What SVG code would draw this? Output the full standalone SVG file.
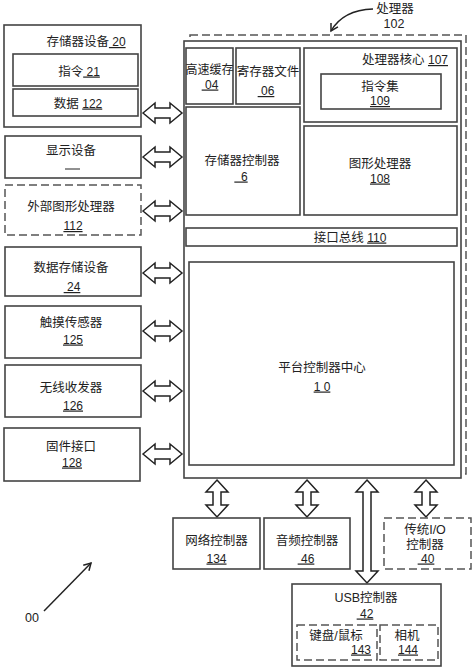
<svg xmlns="http://www.w3.org/2000/svg" xmlns:xlink="http://www.w3.org/1999/xlink" width="474" height="669" viewBox="0 0 474 669">
<style>
text{font-family:"Liberation Sans","Noto Sans CJK SC",sans-serif;font-size:12.5px;fill:#222;text-anchor:middle}
.n{font-size:12px;text-decoration:underline}
.b{fill:#fff;stroke:#444;stroke-width:1.6}
.d{fill:#fff;stroke:#555;stroke-width:1.5;stroke-dasharray:8,4}
.a{fill:#fff;stroke:#222;stroke-width:1.5;stroke-linejoin:miter}
.l{fill:none;stroke:#222;stroke-width:1.5}
</style>
<defs>
<path id="ha" class="a" d="M0,0 L12,-10 L12,-5 L27,-5 L27,-10 L39,0 L27,10 L27,5 L12,5 L12,10 Z"/>
<path id="va" class="a" d="M0,0 L11,12 L4,12 L4,25 L11,25 L0,37 L-11,25 L-4,25 L-4,12 L-11,12 Z"/>
<path id="vl" class="a" d="M0,0 L11,12 L4,12 L4,91 L11,91 L0,103 L-11,91 L-4,91 L-4,12 L-11,12 Z"/>
<marker id="ah" markerWidth="10" markerHeight="10" refX="8" refY="5" orient="auto" markerUnits="userSpaceOnUse">
<path d="M1,1 L8,5 L1,9" fill="none" stroke="#222" stroke-width="1.5"/>
</marker>
</defs>

<g id="connectors">
<use xlink:href="#ha" href="#ha" x="143" y="113"/>
<use xlink:href="#ha" href="#ha" x="143" y="157"/>
<use xlink:href="#ha" href="#ha" x="143" y="211"/>
<use xlink:href="#ha" href="#ha" x="143" y="273"/>
<use xlink:href="#ha" href="#ha" x="143" y="331"/>
<use xlink:href="#ha" href="#ha" x="143" y="391"/>
<use xlink:href="#ha" href="#ha" x="143" y="454"/>
<use xlink:href="#va" href="#va" x="217" y="480"/>
<use xlink:href="#va" href="#va" x="307" y="480"/>
<use xlink:href="#vl" href="#vl" x="367" y="480"/>
<use xlink:href="#va" href="#va" x="426" y="480"/>
<path class="l" d="M373,9 Q343,10 331,31" marker-end="url(#ah)"/>
<path class="l" d="M44,611 L91,563" marker-end="url(#ah)"/>
</g>

<g id="memory-device">
<rect class="b" x="4" y="25" width="137" height="102"/>
<text x="86" y="46">存储器设备<tspan class="n">&#160;20</tspan></text>
</g>
<g id="instructions">
<rect class="b" x="13" y="54" width="125" height="32"/>
<text x="79" y="75.5">指令<tspan class="n">&#160;21</tspan></text>
</g>
<g id="data">
<rect class="b" x="13" y="89" width="125" height="27"/>
<text x="78" y="107.5">数据 <tspan class="n">122</tspan></text>
</g>
<g id="display">
<rect class="b" x="5" y="136" width="136" height="42"/>
<text x="71" y="154.5">显示设备</text>
<line x1="65" y1="169" x2="80" y2="169" stroke="#222" stroke-width="1"/>
</g>
<g id="ext-gpu">
<rect class="d" x="5" y="185" width="136" height="50"/>
<text x="71" y="211">外部图形处理器</text>
<text class="n" x="73" y="230">112</text>
</g>
<g id="data-storage">
<rect class="b" x="5" y="247" width="136" height="49"/>
<text x="71" y="271.5">数据存储设备</text>
<text class="n" x="72" y="291">&#160;24</text>
</g>
<g id="touch">
<rect class="b" x="5" y="306" width="136" height="52"/>
<text x="71" y="326.5">触摸传感器</text>
<text class="n" x="73" y="343.5">125</text>
</g>
<g id="wireless">
<rect class="b" x="5" y="365" width="136" height="52"/>
<text x="71" y="391.5">无线收发器</text>
<text class="n" x="73" y="409.5">126</text>
</g>
<g id="firmware">
<rect class="b" x="4" y="428" width="136" height="53"/>
<text x="71" y="450.5">固件接口</text>
<text class="n" x="72" y="466.5">128</text>
</g>

<g id="processor">
<rect class="d" x="190" y="35" width="276" height="439"/>
<rect class="b" x="184" y="41" width="277" height="437"/>
<text x="395" y="13">处理器</text>
<text x="394" y="28">102</text>
</g>
<g id="cache">
<rect class="b" x="186" y="48" width="47" height="56"/>
<text x="209.5" y="74" style="font-size:12px">高速缓存</text>
<text class="n" x="210" y="88.5">&#160;04</text>
</g>
<g id="regfile">
<rect class="b" x="236" y="48" width="64" height="56"/>
<text x="268" y="76">寄存器文件</text>
<text class="n" x="266" y="95">&#160;06</text>
</g>
<g id="core">
<rect class="b" x="304" y="48" width="153" height="74"/>
<text x="448" y="64" style="text-anchor:end">处理器核心 <tspan class="n">107</tspan></text>
</g>
<g id="isa">
<rect class="b" x="321" y="74" width="120" height="35"/>
<text x="380" y="90.5">指令集</text>
<text class="n" x="380" y="105">109</text>
</g>
<g id="mem-ctrl">
<rect class="b" x="186" y="107" width="114" height="108"/>
<text x="242" y="164.5">存储器控制器</text>
<text class="n" x="241" y="180.5">&#160;&#160;6</text>
</g>
<g id="gpu">
<rect class="b" x="304" y="126" width="153" height="89"/>
<text x="380" y="167.5">图形处理器</text>
<text class="n" x="380" y="182.5">108</text>
</g>
<g id="bus">
<rect class="b" x="186" y="228" width="271" height="18"/>
<text x="350" y="241.5">接口总线 <tspan class="n">110</tspan></text>
</g>
<g id="pch">
<rect class="b" x="189" y="262" width="265" height="203"/>
<text x="322" y="371.5">平台控制器中心</text>
<text class="n" x="322" y="390.5">1&#160;0</text>
</g>

<g id="net">
<rect class="b" x="173" y="518" width="87" height="51"/>
<text x="216.5" y="544.5">网络控制器</text>
<text class="n" x="216.5" y="562.5">134</text>
</g>
<g id="audio">
<rect class="b" x="264" y="518" width="86" height="51"/>
<text x="307" y="544.5">音频控制器</text>
<text class="n" x="306" y="562.5">&#160;46</text>
</g>
<g id="legacy">
<rect class="d" x="384" y="518" width="87" height="51"/>
<text x="425" y="533.5">传统I/O</text>
<text x="425" y="548.5">控制器</text>
<text class="n" x="426" y="562.5">&#160;40</text>
</g>
<g id="usb">
<rect class="b" x="292" y="584" width="149" height="82"/>
<text x="366" y="601.5">USB控制器</text>
<text class="n" x="365" y="617.5">&#160;42</text>
</g>
<g id="kbd">
<rect class="d" x="297" y="625" width="80" height="35"/>
<text x="336" y="639.5">键盘/鼠标</text>
<text class="n" x="371" y="653.5" style="text-anchor:end">143</text>
</g>
<g id="camera">
<rect class="d" x="380" y="625" width="58" height="35"/>
<text x="407" y="639.5">相机</text>
<text class="n" x="408" y="653.5">144</text>
</g>
<g id="fig-label">
<text x="32" y="621.5">00</text>
</g>
</svg>
